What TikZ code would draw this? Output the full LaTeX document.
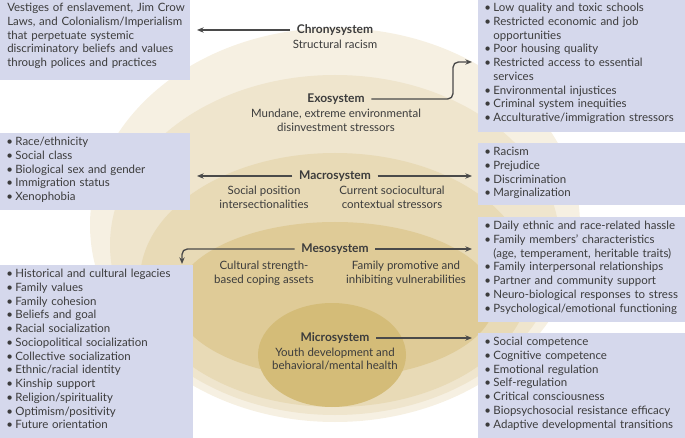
\documentclass[tikz,border=0pt]{standalone}
\usepackage{fontspec}
\setmainfont{Lato}
\usetikzlibrary{arrows.meta}
\definecolor{cchr}{HTML}{F6F0E2}
\definecolor{cexo}{HTML}{EFE5CD}
\definecolor{cmac}{HTML}{E8DAB6}
\definecolor{cmes}{HTML}{DFCB97}
\definecolor{cmic}{HTML}{D4BC78}
\definecolor{cbox}{HTML}{D5D8EC}
\definecolor{ctxt}{HTML}{3C3C3C}
\definecolor{carr}{HTML}{4A4A4A}
\newcommand{\bi}[1]{\noindent\makebox[0.8em][l]{\textbullet}#1\par}
\newcommand{\nl}{\\\hspace*{0.8em}}
\tikzset{
  every node/.style={text=ctxt,font=\fontsize{8.6}{10.3}\selectfont},
  boxtext/.style={anchor=north west,inner sep=0pt,text width=#1,align=left},
  sysname/.style={font=\fontsize{9}{10.3}\selectfont\bfseries,inner sep=1pt,outer sep=4pt},
  subtext/.style={align=center,inner sep=0pt},
  conn/.style={draw=carr,line width=1pt,-{Stealth[length=5pt,width=4pt]}},
}
\begin{document}
\begin{tikzpicture}[x=0.75pt,y=-0.75pt]
\useasboundingbox (0,0) rectangle (685,438);
% ellipses
\fill[cchr] (335,225) ellipse [x radius=245,y radius=197];
\fill[cexo] (335,245) ellipse [x radius=225,y radius=170];
\fill[cmac] (335,280) ellipse [x radius=195,y radius=127];
\fill[cmes] (335,300) ellipse [x radius=160,y radius=78];
\fill[cmic] (332,355) ellipse [x radius=74,y radius=52];
% boxes
\fill[cbox] (0,0) rectangle (190,80);
\fill[cbox] (478,0) rectangle (685,132);
\fill[cbox] (0,133) rectangle (190,210);
\fill[cbox] (478,143) rectangle (685,205);
\fill[cbox] (0,265) rectangle (193,438);
\fill[cbox] (478,217) rectangle (685,322);
\fill[cbox] (478,333) rectangle (685,438);
\node[boxtext=200pt] (b1) at (7,3) {Vestiges of enslavement, Jim Crow\\Laws, and Colonialism/Imperialism\\that perpetuate systemic\\discriminatory beliefs and values\\through polices and practices};
\node[boxtext=200pt] (b2) at (484,3) {\bi{Low quality and toxic schools}\bi{Restricted economic and job\nl opportunities}\bi{Poor housing quality}\bi{Restricted access to essential\nl services}\bi{Environmental injustices}\bi{Criminal system inequities}\bi{Acculturative/immigration stressors}};
\node[boxtext=200pt] (b3) at (6,137) {\bi{Race/ethnicity}\bi{Social class}\bi{Biological sex and gender}\bi{Immigration status}\bi{Xenophobia}};
\node[boxtext=200pt] (b4) at (484,147) {\bi{Racism}\bi{Prejudice}\bi{Discrimination}\bi{Marginalization}};
\node[boxtext=200pt] (b5) at (6,269) {\bi{Historical and cultural legacies}\bi{Family values}\bi{Family cohesion}\bi{Beliefs and goal}\bi{Racial socialization}\bi{Sociopolitical socialization}\bi{Collective socialization}\bi{Ethnic/racial identity}\bi{Kinship support}\bi{Religion/spirituality}\bi{Optimism/positivity}\bi{Future orientation}};
\node[boxtext=200pt] (b6) at (484,221) {\bi{Daily ethnic and race-related hassle}\bi{Family members' characteristics\nl (age, temperament, heritable traits)}\bi{Family interpersonal relationships}\bi{Partner and community support}\bi{Neuro-biological responses to stress}\bi{Psychological/emotional functioning}};
\node[boxtext=200pt] (b7) at (484,337) {\bi{Social competence}\bi{Cognitive competence}\bi{Emotional regulation}\bi{Self-regulation}\bi{Critical consciousness}\bi{Biopsychosocial resistance efficacy}\bi{Adaptive developmental transitions}};
% systems
\node[sysname] (chr) at (335,30) {Chronysystem};
\node[subtext] (chrt) at (335,44) {Structural racism};
\node[sysname] (exo) at (336,99) {Exosystem};
\node[subtext] (exot) at (336,120) {Mundane, extreme environmental\\disinvestment stressors};
\node[sysname] (mac) at (335,176) {Macrosystem};
\node[subtext] (mact1) at (264,197) {Social position\\intersectionalities};
\node[subtext] (mact2) at (392,197) {Current sociocultural\\contextual stressors};
\node[sysname] (mes) at (335,249) {Mesosystem};
\node[subtext] (mest1) at (264,273) {Cultural strength-\\based coping assets};
\node[subtext] (mest2) at (406,273) {Family promotive and\\inhibiting vulnerabilities};
\node[sysname] (mic) at (335,338) {Microsystem};
\node[subtext] (mict) at (335,359) {Youth development and\\behavioral/mental health};
% connectors
\coordinate (p1) at (197,30);
\coordinate (p2) at (472,62);
\coordinate (p3) at (197,176);
\coordinate (p4) at (472,176);
\coordinate (p5) at (182,264);
\coordinate (p6) at (472,249);
\coordinate (p7) at (472,338);
\draw[conn] (chr.west) -- (p1);
\draw[conn,rounded corners=4pt] (exo.east) -- (453,99) -- (453,62) -- (p2);
\draw[conn] (mac.west) -- (p3);
\draw[conn] (mac.east) -- (p4);
\draw[conn,rounded corners=4pt] (mes.west) -- (182,249) -- (p5);
\draw[conn] (mes.east) -- (p6);
\draw[conn] (mic.east) -- (p7);
\end{tikzpicture}
\end{document}
